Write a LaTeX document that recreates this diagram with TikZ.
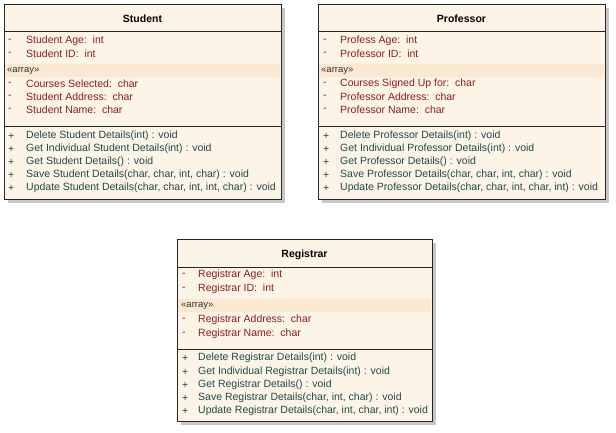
\documentclass[tikz,border=0pt]{standalone}
\usepackage{fontspec}
\setmainfont{Liberation Sans}
\begin{document}
\begin{tikzpicture}[x=1pt,y=-1pt,
  attr/.style={anchor=west,inner sep=0pt,text=attrc,font=\fontsize{10.5}{12}\selectfont},
  meth/.style={anchor=west,inner sep=0pt,text=methc,font=\fontsize{10.5}{12}\selectfont},
  stereo/.style={anchor=west,inner sep=0pt,text=black!80,font=\fontsize{9.5}{12}\selectfont},
  ttl/.style={inner sep=0pt,font=\bfseries\fontsize{10.5}{12}\selectfont},
  box/.style={draw=black!85,line width=0.8pt,fill=boxfill},
  shadow/.style={fill=black!22,draw=none}]
\definecolor{boxfill}{HTML}{FDF4E8}
\definecolor{band}{HTML}{FBE8D0}
\definecolor{attrc}{HTML}{8E1C1C}
\definecolor{methc}{HTML}{1E4A4A}
\useasboundingbox (0,0) rectangle (616,432);
% Student
\fill[shadow] (8,8) rectangle (285,203);
\draw[box] (4,4) rectangle (281,199);
\fill[band] (5,64) rectangle (280,77);
\draw[black!85] (4,31) -- (281,31) (4,126) -- (281,126);
\draw[black!85,line width=0.8pt] (4,4) rectangle (281,199);
\node[ttl] (st) at (142.5,19) {Student};
\foreach \y/\t in {41/{Student Age:\ \ int},54/{Student ID:\ \ int},84/{Courses Selected:\ \ char},97/{Student Address:\ \ char},110/{Student Name:\ \ char}}{
  \node[attr] at (8,\y) {-}; \node[attr] at (26,\y) {\t};}
\node[stereo] (sa) at (7,71) {«array»};
\foreach \y/\t in {136/{Delete Student Details(int) : void},149/{Get Individual Student Details(int) : void},162/{Get Student Details() : void},175/{Save Student Details(char, char, int, char) : void},188/{Update Student Details(char, char, int, int, char) : void}}{
  \node[meth] at (8,\y) {+}; \node[meth] at (26,\y) {\t};}
% Professor
\fill[shadow] (322,8) rectangle (609,203);
\draw[box] (318,4) rectangle (605,199);
\fill[band] (319,64) rectangle (604,77);
\draw[black!85] (318,31) -- (605,31) (318,126) -- (605,126);
\draw[black!85,line width=0.8pt] (318,4) rectangle (605,199);
\node[ttl] (pr) at (461.5,19) {Professor};
\foreach \y/\t in {41/{Profess Age:\ \ int},54/{Professor ID:\ \ int},84/{Courses Signed Up for:\ \ char},97/{Professor Address:\ \ char},110/{Professor Name:\ \ char}}{
  \node[attr] at (323,\y) {-}; \node[attr] at (340,\y) {\t};}
\node[stereo] (pa) at (321,71) {«array»};
\foreach \y/\t in {136/{Delete Professor Details(int) : void},149/{Get Individual Professor Details(int) : void},162/{Get Professor Details() : void},175/{Save Professor Details(char, char, int, char) : void},188/{Update Professor Details(char, char, int, char, int) : void}}{
  \node[meth] at (323,\y) {+}; \node[meth] at (340,\y) {\t};}
% Registrar
\fill[shadow] (181,243) rectangle (436,425);
\draw[box] (177,239) rectangle (432,421);
\fill[band] (178,299) rectangle (431,312);
\draw[black!85] (177,267) -- (432,267) (177,349) -- (432,349);
\draw[black!85,line width=0.8pt] (177,239) rectangle (432,421);
\node[ttl] (rg) at (304.5,255) {Registrar};
\foreach \y/\t in {275/{Registrar Age:\ \ int},289/{Registrar ID:\ \ int},320/{Registrar Address:\ \ char},334/{Registrar Name:\ \ char}}{
  \node[attr] at (182,\y) {-}; \node[attr] at (198,\y) {\t};}
\node[stereo] (ra) at (181,306) {«array»};
\foreach \y/\t in {358/{Delete Registrar Details(int) : void},372/{Get Individual Registrar Details(int) : void},385/{Get Registrar Details() : void},398/{Save Registrar Details(char, int, char) : void},411/{Update Registrar Details(char, int, char, int) : void}}{
  \node[meth] at (182,\y) {+}; \node[meth] at (198,\y) {\t};}
\end{tikzpicture}
\end{document}
